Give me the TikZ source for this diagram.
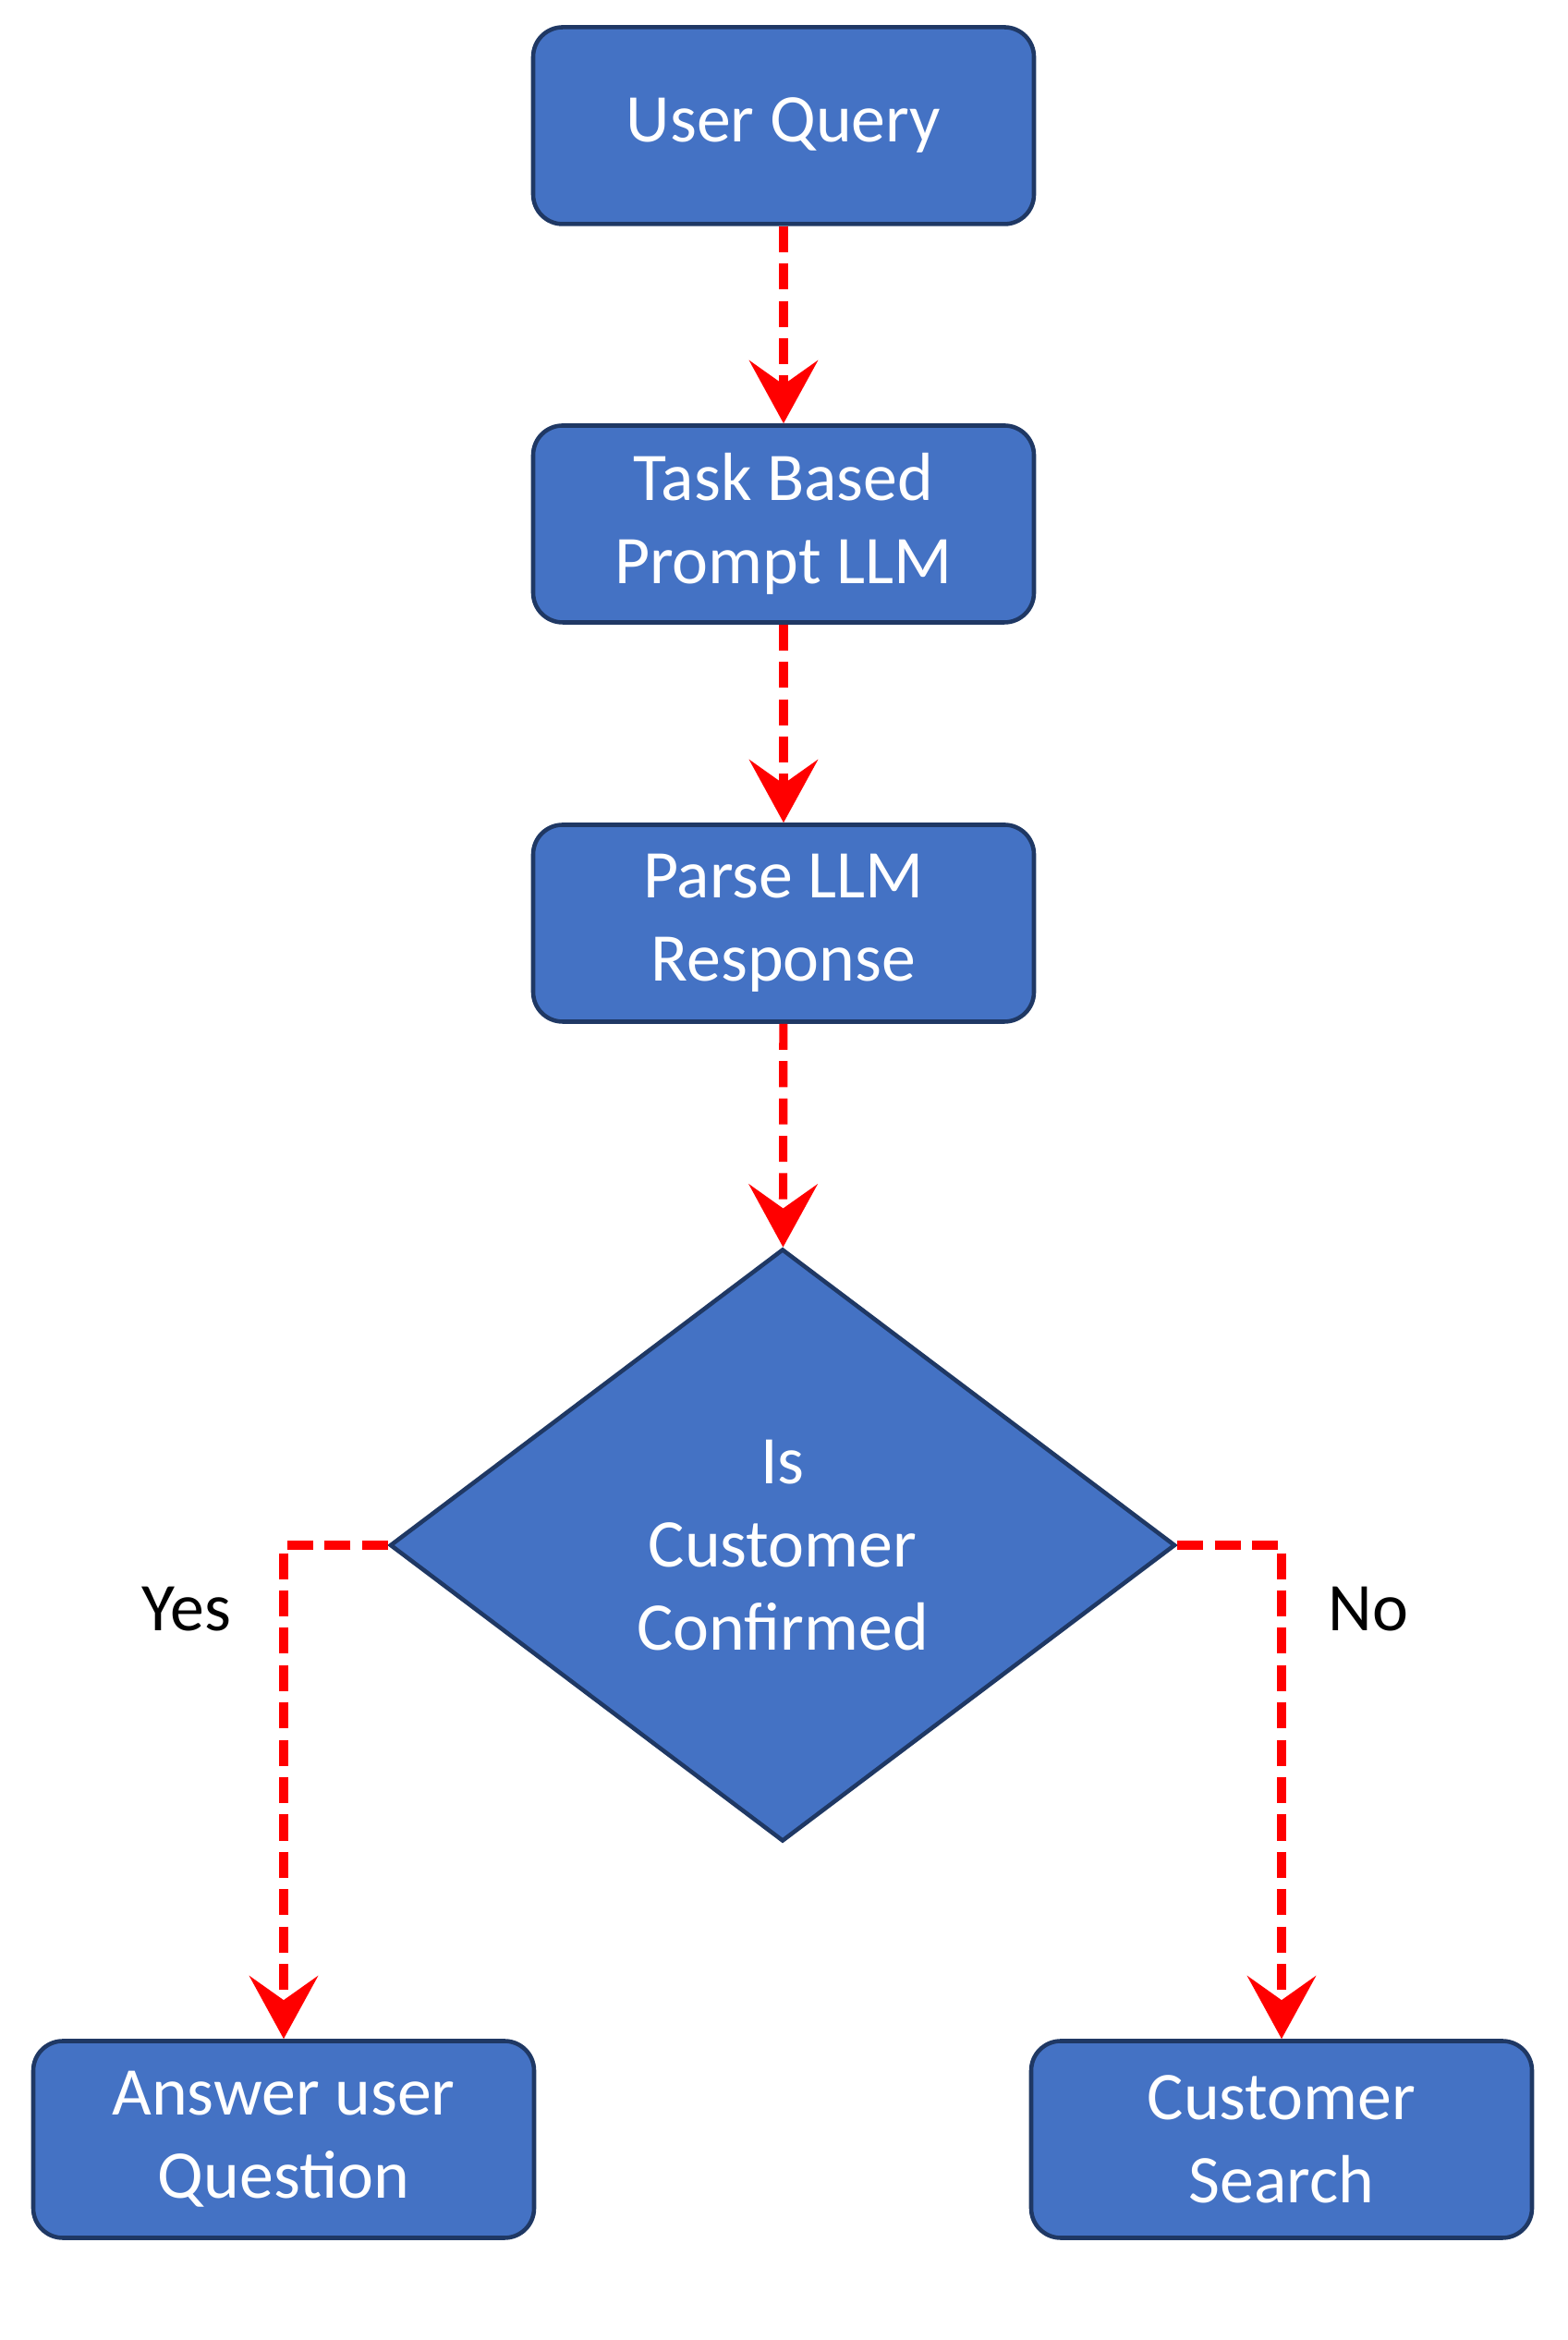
\documentclass[tikz,border=0pt]{standalone}
\usepackage{fontspec}
\setmainfont{Carlito}
\usetikzlibrary{arrows.meta,shapes.geometric}

\definecolor{boxblue}{HTML}{4472C4}
\definecolor{boxedge}{HTML}{1F3864}

\tikzset{
	stepbox/.style={draw=boxedge, line width=1.3pt, fill=boxblue, rounded corners=0.32cm,
		minimum width=5.42cm, minimum height=2.13cm, align=center, text=white,
		font=\fontsize{21}{25.5}\selectfont},
	decision/.style={diamond, draw=boxedge, line width=1.3pt, fill=boxblue, inner sep=0pt,
		minimum width=8.5cm, minimum height=6.41cm, align=center, text=white,
		font=\fontsize{21}{25.5}\selectfont},
	flow/.style={red, line width=2.6pt, dash pattern=on 8pt off 3.5pt,
		-{Stealth[length=0.68cm, width=0.74cm, inset=0.26cm]}},
	branchlbl/.style={font=\fontsize{21}{25.5}\selectfont}
}

\begin{document}
\begin{tikzpicture}
		\useasboundingbox (0,0) rectangle (16.96,25.32);
		% process steps
		\node[stepbox] (query) at (8.48,23.96) {User Query};
		\node[stepbox] (prompt) at (8.48,19.65) {Task Based\\Prompt LLM};
		\node[stepbox] (parse) at (8.48,15.33) {Parse LLM\\Response};
		\node[decision] (confirmed) at (8.47,8.60) {Is\\Customer\\Confirmed};
		\node[stepbox] (answer) at (3.07,2.17) {Answer user\\Question};
		\node[stepbox] (search) at (13.87,2.17) {Customer\\Search};
		% branch labels
		\node[branchlbl] (yes) at (2.02,7.91) {Yes};
		\node[branchlbl] (no) at (14.81,7.91) {No};
		% connectors
		\draw[flow] (query) -- (prompt);
		\draw[flow] (prompt) -- (parse);
		\draw[flow] (parse) -- (confirmed);
		\draw[flow] (confirmed.west) -| (answer.north);
		\draw[flow] (confirmed.east) -| (search.north);
	\end{tikzpicture}
\end{document}
